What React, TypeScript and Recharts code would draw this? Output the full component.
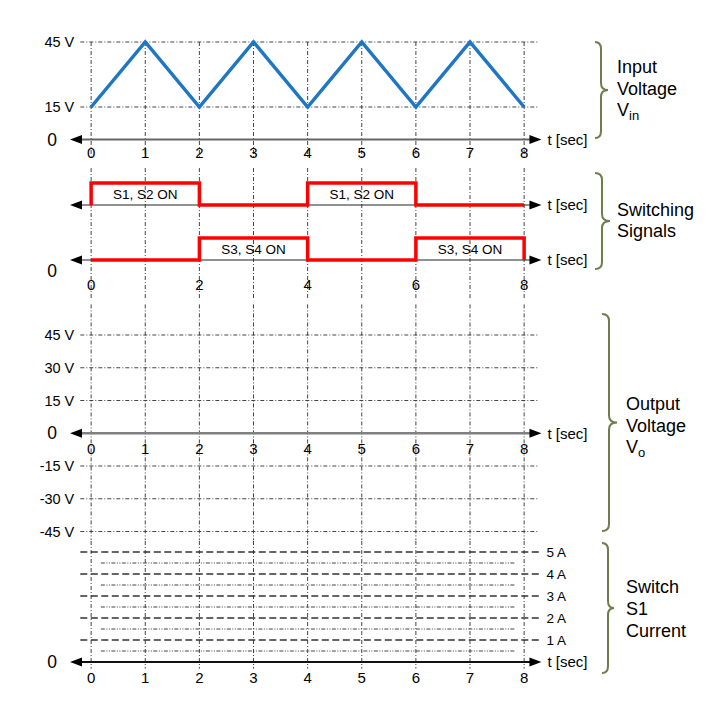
import React from "react";
import { ComposedChart, Line, XAxis, YAxis, ReferenceLine, ReferenceDot } from "recharts";

const W = 715;
const H = 703;

// time axis
const timeTicks = [0, 1, 2, 3, 4, 5, 6, 7, 8];
const switchTicks = [0, 2, 4, 6, 8];

// input voltage (triangle wave)
const vinTimes = [0, 1, 2, 3, 4, 5, 6, 7, 8];
const vinValues = [15, 45, 15, 45, 15, 45, 15, 45, 15];
const vinTicks = [15, 45];

// switching signals: state held from each edge until the next one
const switchEdges = [0, 2, 4, 6, 8];
const s12States = [1, 0, 1, 0, 0];
const s34States = [0, 1, 0, 1, 0];
const s12Label = "S1, S2 ON";
const s34Label = "S3, S4 ON";

// output voltage grid
const voTicks = [45, 30, 15, -15, -30, -45];

// switch current grid
const ampTicks = [5, 4, 3, 2, 1];
const ampMinor = [4.5, 3.5, 2.5, 1.5, 0.5];

// ---- layout ----
const MARGIN = { top: 0, right: 136.75, bottom: 0, left: 37 };
const X_DOMAIN: [number, number] = [-1, 9];
const ARROW_L = -0.39;
const ARROW_R = 8.32;
const GRID_L = -0.2;
const GRID_R = 8.25;
const ZERO_X = -0.72;
const FONT = "'Liberation Sans', Arial, sans-serif";

// value -> pixel anchors for each stacked panel (two points each)
const anchors: Record<string, [[number, number], [number, number]]> = {
  vin: [[45, 42], [15, 107]],
  swA: [[1, 183], [0, 205]],
  swB: [[1, 238], [0, 260]],
  vo: [[45, 335], [-45, 531.5]],
  amp: [[5, 552], [0, 662]],
};

function domainFor(id: string): [number, number] {
  const [[vA, pA], [vB, pB]] = anchors[id];
  const s = (vA - vB) / (pB - pA);
  return [vA - (H - pA) * s, vA + pA * s];
}

const vinData = vinTimes.map((t, i) => ({ t, v: vinValues[i] }));
const toSteps = (states: number[]) => [{ t: switchEdges[0], v: 0 }, ...switchEdges.map((t, i) => ({ t, v: states[i] }))];
const s12Data = toSteps(s12States);
const s34Data = toSteps(s34States);
// centre of every "on" interval
const onMids = (states: number[]) =>
  switchEdges.slice(0, -1).flatMap((t, i) => (states[i] === 1 ? [(t + switchEdges[i + 1]) / 2] : []));

const ArrowAxis = (props: any) => {
  const { x1, y1, x2, y2, stroke, strokeWidth } = props;
  const L = 12;
  const h = 4.5;
  return (
    <g>
      <line x1={x1 + L - 1} y1={y1} x2={x2 - L + 1} y2={y2} stroke={stroke} strokeWidth={strokeWidth} />
      <polygon points={`${x1},${y1} ${x1 + L},${y1 - h} ${x1 + L},${y1 + h}`} fill="#000" />
      <polygon points={`${x2},${y2} ${x2 - L},${y2 - h} ${x2 - L},${y2 + h}`} fill="#000" />
    </g>
  );
};

const vGrid = (id: string, top: number, bottom: number) =>
  timeTicks.map((t) => (
    <ReferenceLine
      key={`vg-${id}-${t}`}
      yAxisId={id}
      segment={[{ x: t, y: top }, { x: t, y: bottom }]}
      stroke="#444"
      strokeWidth={1}
      strokeDasharray="4 2 1 2"
    />
  ));

const hGrid = (id: string, values: number[]) =>
  values.map((v) => (
    <ReferenceLine
      key={`hg-${id}-${v}`}
      yAxisId={id}
      segment={[{ x: GRID_L, y: v }, { x: GRID_R, y: v }]}
      stroke="#444"
      strokeWidth={1}
      strokeDasharray="4 2 1 2"
      label={{ value: `${v} V`, position: "left", offset: 6, fill: "#000", fontSize: 14.5 }}
    />
  ));

const timeAxis = (id: string, stroke: string, width: number) => (
  <ReferenceLine
    key={`ax-${id}`}
    yAxisId={id}
    segment={[{ x: ARROW_L, y: 0 }, { x: ARROW_R, y: 0 }]}
    stroke={stroke}
    strokeWidth={width}
    shape={ArrowAxis}
    label={{ value: "t [sec]", position: "right", offset: 6, fill: "#000", fontSize: 15 }}
  />
);

const tickLabels = (id: string, ticks: number[], offset: number) =>
  ticks.map((t) => (
    <ReferenceDot
      key={`tl-${id}-${t}`}
      yAxisId={id}
      x={t}
      y={0}
      r={0}
      fill="none"
      stroke="none"
      label={{ value: String(t), position: "bottom", offset, fill: "#000", fontSize: 15 }}
    />
  ));

const zeroLabel = (id: string, y: number) => (
  <ReferenceDot
    key={`z-${id}`}
    yAxisId={id}
    x={ZERO_X}
    y={y}
    r={0}
    fill="none"
    stroke="none"
    label={{ value: "0", position: "center", fill: "#000", fontSize: 17.5 }}
  />
);

const Brace = ({ top, bottom, xl, xs, xt }: { top: number; bottom: number; xl: number; xs: number; xt: number }) => {
  const mid = (top + bottom) / 2;
  const r = 7;
  const d = `M ${xl} ${top} Q ${xs} ${top} ${xs} ${top + r} L ${xs} ${mid - r} Q ${xs} ${mid} ${xt} ${mid} Q ${xs} ${mid} ${xs} ${mid + r} L ${xs} ${bottom - r} Q ${xs} ${bottom} ${xl} ${bottom}`;
  return <path d={d} fill="none" stroke="#6f7d4c" strokeWidth={2} />;
};

const sideText = { fontSize: 18, fill: "#000" };

export default function App() {
  return (
    <div style={{ position: "absolute", left: 0, top: 0, width: W, height: H, background: "#fff", fontFamily: FONT }}>
      <ComposedChart width={W} height={H} margin={MARGIN}>
        <XAxis xAxisId={0} dataKey="t" type="number" domain={X_DOMAIN} allowDataOverflow hide />
        {Object.keys(anchors).map((id) => (
          <YAxis key={id} yAxisId={id} type="number" domain={domainFor(id)} allowDataOverflow hide />
        ))}

        {/* vertical grid, one run per panel */}
        {vGrid("vin", 45, -8)}
        {vGrid("swB", 4.18, -1.82)}
        {vGrid("vo", 59, -49)}
        {vGrid("amp", 5.5, -0.3)}

        {/* horizontal grid */}
        {hGrid("vin", vinTicks)}
        {hGrid("vo", voTicks)}
        {ampTicks.map((a) => (
          <ReferenceLine
            key={`amp-${a}`}
            yAxisId="amp"
            segment={[{ x: GRID_L, y: a }, { x: ARROW_R, y: a }]}
            stroke="#333"
            strokeWidth={1.3}
            strokeDasharray="7 3.5"
            label={{ value: `${a} A`, position: "right", offset: 5, fill: "#000", fontSize: 13.5 }}
          />
        ))}
        {ampMinor.map((a) => (
          <ReferenceLine
            key={`ampm-${a}`}
            yAxisId="amp"
            segment={[{ x: 0.18, y: a }, { x: 7.83, y: a }]}
            stroke="#444"
            strokeWidth={1}
            strokeDasharray="4 1.5 1 1.5 1 1.5"
          />
        ))}

        {/* time axes */}
        {timeAxis("vin", "#666", 2)}
        {timeAxis("swA", "#222", 1)}
        {timeAxis("swB", "#222", 1)}
        {timeAxis("vo", "#808080", 2.5)}
        {timeAxis("amp", "#111", 2)}

        {zeroLabel("vin", 0)}
        {zeroLabel("swB", -0.5)}
        {zeroLabel("vo", 0)}
        {zeroLabel("amp", 0)}

        {tickLabels("vin", timeTicks, 8)}
        {tickLabels("swB", switchTicks, 19)}
        {tickLabels("vo", timeTicks, 10)}
        {tickLabels("amp", timeTicks, 10)}

        <Line
          yAxisId="vin"
          data={vinData}
          dataKey="v"
          type="linear"
          stroke="#1f77c4"
          strokeWidth={3.5}
          dot={false}
          activeDot={false}
          isAnimationActive={false}
        />
        <Line
          yAxisId="swA"
          data={s12Data}
          dataKey="v"
          type="stepAfter"
          stroke="#ff0000"
          strokeWidth={3.5}
          strokeLinejoin="miter"
          dot={false}
          activeDot={false}
          isAnimationActive={false}
        />
        <Line
          yAxisId="swB"
          data={s34Data}
          dataKey="v"
          type="stepAfter"
          stroke="#ff0000"
          strokeWidth={3.5}
          strokeLinejoin="miter"
          dot={false}
          activeDot={false}
          isAnimationActive={false}
        />

        {onMids(s12States).map((t) => (
          <ReferenceDot
            key={`on12-${t}`}
            yAxisId="swA"
            x={t}
            y={0.5}
            r={0}
            fill="none"
            stroke="none"
            label={{ value: s12Label, position: "center", fill: "#000", fontSize: 13.5 }}
          />
        ))}
        {onMids(s34States).map((t) => (
          <ReferenceDot
            key={`on34-${t}`}
            yAxisId="swB"
            x={t}
            y={0.5}
            r={0}
            fill="none"
            stroke="none"
            label={{ value: s34Label, position: "center", fill: "#000", fontSize: 13.5 }}
          />
        ))}
      </ComposedChart>

      <svg width={W} height={H} style={{ position: "absolute", left: 0, top: 0, pointerEvents: "none" }} fontFamily={FONT}>
        <Brace top={42} bottom={138} xl={595} xs={601} xt={608} />
        <Brace top={173} bottom={269} xl={595} xs={602} xt={610} />
        <Brace top={314} bottom={531} xl={602} xs={609} xt={617} />
        <Brace top={543} bottom={673} xl={602} xs={608} xt={614} />

        <text x={617} y={73} {...sideText}>Input</text>
        <text x={617} y={95} {...sideText}>Voltage</text>
        <text x={617} y={116} {...sideText}>
          V<tspan fontSize={13} dy={4}>in</tspan>
        </text>

        <text x={617} y={215.5} {...sideText}>Switching</text>
        <text x={617} y={237} {...sideText}>Signals</text>

        <text x={626} y={410} {...sideText}>Output</text>
        <text x={626} y={432} {...sideText}>Voltage</text>
        <text x={626} y={453} {...sideText}>
          V<tspan fontSize={13} dy={4}>o</tspan>
        </text>

        <text x={626} y={593} {...sideText}>Switch</text>
        <text x={626} y={615} {...sideText}>S1</text>
        <text x={626} y={637} {...sideText}>Current</text>
      </svg>
    </div>
  );
}
